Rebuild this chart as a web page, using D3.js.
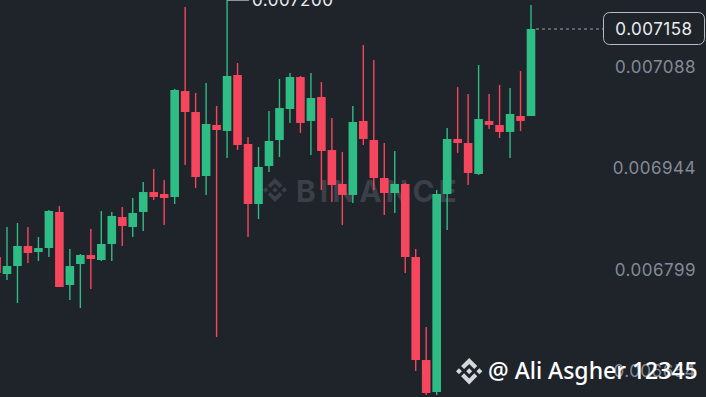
<!DOCTYPE html>
<html lang="en">
<head>
<meta charset="UTF-8">
<title>Candles</title>
<script src="https://d3js.org/d3.v7.min.js"></script>
<style>
  html, body { margin: 0; padding: 0; background: #1f232a; }
  svg { display: block; }
  .tick text { font-family: Inter, "Open Sans", sans-serif; font-size: 17px; fill: #848b96; letter-spacing: 0.5px; }
</style>
</head>
<body>
<div id="chart"></div>
<script type="text/javascript">
var width = 706, height = 397;

// candle data, oldest first (last one is the live candle)
var opens  = [0.0068323,0.0068080,0.0068194,0.0068480,0.0068394,0.0068451,0.0068966,0.0067923,0.0068223,0.0068351,
              0.0068280,0.0068509,0.0068894,0.0068751,0.0068966,0.0069251,0.0069223,0.0069180,0.0070694,0.0070394,
              0.0069480,0.0070209,0.0070123,0.0070923,0.0069937,0.0069080,0.0069623,0.0069994,0.0070437,0.0070894,
              0.0070266,0.0070609,0.0069851,0.0069366,0.0069209,0.0070266,0.0069994,0.0069451,0.0069237,0.0069366,
              0.0068323,0.0066851,0.0066394,0.0069223,0.0070009,0.0069951,0.0069509,0.0070266,0.0070209,0.0070109,
              0.0070337,0.0070337];
var highs  = [0.0068423,0.0068751,0.0068809,0.0068751,0.0068609,0.0068994,0.0069051,0.0068437,0.0068366,0.0068723,
              0.0068980,0.0068966,0.0069037,0.0069166,0.0069394,0.0069580,0.0069423,0.0070723,0.0071894,0.0070666,
              0.0070809,0.0070480,0.0072000,0.0071094,0.0070037,0.0069894,0.0070409,0.0070866,0.0070951,0.0070909,
              0.0070951,0.0070823,0.0070309,0.0069823,0.0070480,0.0071351,0.0071137,0.0069951,0.0069837,0.0069380,
              0.0068437,0.0067323,0.0069280,0.0070166,0.0070751,0.0070651,0.0071066,0.0070651,0.0070780,0.0070737,
              0.0070980,0.0071923];
var lows   = [0.0068023,0.0067994,0.0067666,0.0068237,0.0068266,0.0068323,0.0067894,0.0067709,0.0067594,0.0067866,
              0.0068266,0.0068266,0.0068480,0.0068609,0.0068694,0.0069137,0.0068780,0.0069080,0.0069637,0.0069309,
              0.0069209,0.0067180,0.0069737,0.0069851,0.0068609,0.0068866,0.0069537,0.0069751,0.0070237,0.0070094,
              0.0069780,0.0069280,0.0069109,0.0068780,0.0069094,0.0069923,0.0069280,0.0068923,0.0068951,0.0068094,
              0.0066694,0.0066351,0.0066351,0.0068709,0.0069809,0.0069351,0.0069494,0.0070151,0.0070023,0.0069737,
              0.0070123,0.0070337];
var closes = [0.0068094,0.0068194,0.0068480,0.0068380,0.0068451,0.0068980,0.0067894,0.0068194,0.0068351,0.0068294,
              0.0068509,0.0068909,0.0068766,0.0068951,0.0069251,0.0069180,0.0069166,0.0070709,0.0070394,0.0069466,
              0.0070223,0.0070137,0.0070909,0.0069923,0.0069080,0.0069609,0.0069980,0.0070451,0.0070894,0.0070237,
              0.0070594,0.0069837,0.0069351,0.0069209,0.0070251,0.0070009,0.0069451,0.0069237,0.0069366,0.0068323,
              0.0066851,0.0066380,0.0069223,0.0070009,0.0069951,0.0069523,0.0070294,0.0070209,0.0070109,0.0070366,
              0.0070266,0.0071580];

var priceTicks = [0.007088, 0.006944, 0.006799, 0.006654];
var lastPrice = 0.007158;
var highMark = { index: 22, label: "0.007200" };
var watermarkText = "@ Ali Asgher 12345";

var up = "#2ebd85", down = "#f6465d";

var candles = opens.map(function(o, i) {
  return { i: i, open: o, high: highs[i], low: lows[i], close: closes[i] };
});

var x = d3.scaleLinear().domain([0, candles.length - 1]).range([-3.5, 531]);
var y = d3.scaleLinear().domain([0.0066, 0.0072]).range([419.6, -0.4]);

var svg = d3.select("#chart").append("svg")
    .attr("width", width)
    .attr("height", height);

svg.append("rect").attr("width", width).attr("height", height).attr("fill", "#1f232a");

var logoPath = "M16.624 13.9202l2.7175 2.7154-7.353 7.353-7.353-7.352 2.7175-2.7164 4.6355 4.6595 4.6356-4.6595zm4.6366-4.6366L24 12l-2.7154 2.7164L18.5682 12l2.6924-2.7164zm-9.272.001l2.7163 2.6914-2.7164 2.7174v-.001L9.2721 12l2.7164-2.7154zm-9.2722-.001L5.4088 12l-2.6914 2.6924L0 12l2.7164-2.7164zM11.9885.0115l7.353 7.329-2.7174 2.7154-4.6356-4.6356-4.6355 4.6595-2.7174-2.7154 7.353-7.353z";

// faint exchange watermark behind the candles
var wm = svg.append("g").attr("fill", "#3a3f48");
wm.append("path").attr("d", logoPath).attr("transform", "translate(263,178) scale(1)");
wm.append("text")
    .attr("x", 296).attr("y", 202)
    .style("font-family", "Inter, sans-serif")
    .style("font-weight", 700)
    .style("font-size", "30px")
    .style("letter-spacing", "4px")
    .text("BINANCE");

// price axis on the right, labels sit above their level
var axis = svg.append("g")
    .attr("transform", "translate(696,0)")
    .call(d3.axisRight(y).tickValues(priceTicks).tickSize(0).tickFormat(d3.format(".6f")));
axis.select(".domain").remove();
axis.selectAll(".tick text")
    .attr("x", 0)
    .attr("dy", "-0.3em")
    .attr("text-anchor", "end");

var g = svg.append("g");

g.selectAll("line.wick")
  .data(candles)
  .enter().append("line")
    .attr("class", "wick")
    .attr("x1", function(d) { return x(d.i); })
    .attr("x2", function(d) { return x(d.i); })
    .attr("y1", function(d) { return y(d.high); })
    .attr("y2", function(d) { return y(d.low); })
    .attr("stroke", function(d) { return d.close >= d.open ? up : down; })
    .attr("stroke-width", 1.4);

g.selectAll("rect.body")
  .data(candles)
  .enter().append("rect")
    .attr("class", "body")
    .attr("x", function(d) { return x(d.i) - 4.3; })
    .attr("width", 8.6)
    .attr("y", function(d) { return y(Math.max(d.open, d.close)); })
    .attr("height", function(d) { return Math.max(1.5, Math.abs(y(d.open) - y(d.close))); })
    .attr("fill", function(d) { return d.close >= d.open ? up : down; });

// max marker
var hx = x(highMark.index), hy = y(highs[highMark.index]);
svg.append("line")
    .attr("x1", hx).attr("x2", hx + 22)
    .attr("y1", hy + 0.8).attr("y2", hy + 0.8)
    .attr("stroke", "#9aa0a8").attr("stroke-width", 1);
svg.append("text")
    .attr("x", hx + 25).attr("y", hy)
    .attr("dy", "0.35em")
    .style("font-family", "Inter, sans-serif")
    .style("font-size", "17px")
    .style("letter-spacing", "0.5px")
    .attr("fill", "#eaecef")
    .text(highMark.label);

// last price line + tag
var ly = y(lastPrice);
svg.append("line")
    .attr("x1", x(candles.length - 1) + 5).attr("x2", 603)
    .attr("y1", ly).attr("y2", ly)
    .attr("stroke", "#9aa0a8").attr("stroke-width", 1)
    .attr("stroke-dasharray", "3,3");
svg.append("rect")
    .attr("x", 603.5).attr("y", ly - 16.5)
    .attr("width", 101).attr("height", 32)
    .attr("rx", 6)
    .attr("fill", "#1f232a")
    .attr("stroke", "#b7bcc4").attr("stroke-width", 1);
svg.append("text")
    .attr("x", 654).attr("y", ly)
    .attr("dy", "0.35em")
    .attr("text-anchor", "middle")
    .style("font-family", "Inter, sans-serif")
    .style("font-size", "17px")
    .style("letter-spacing", "0.5px")
    .attr("fill", "#eaecef")
    .text(d3.format(".6f")(lastPrice));

// author overlay
svg.append("path").attr("d", logoPath)
    .attr("transform", "translate(456,358) scale(1.1)")
    .attr("fill", "#d5d7db");
svg.append("text")
    .attr("x", 488).attr("y", 379)
    .style("font-family", "'Noto Sans', sans-serif")
    .style("font-size", "23px")
    .style("font-weight", 500)
    .attr("fill", "#ffffff")
    .text(watermarkText);
</script>
</body>
</html>
